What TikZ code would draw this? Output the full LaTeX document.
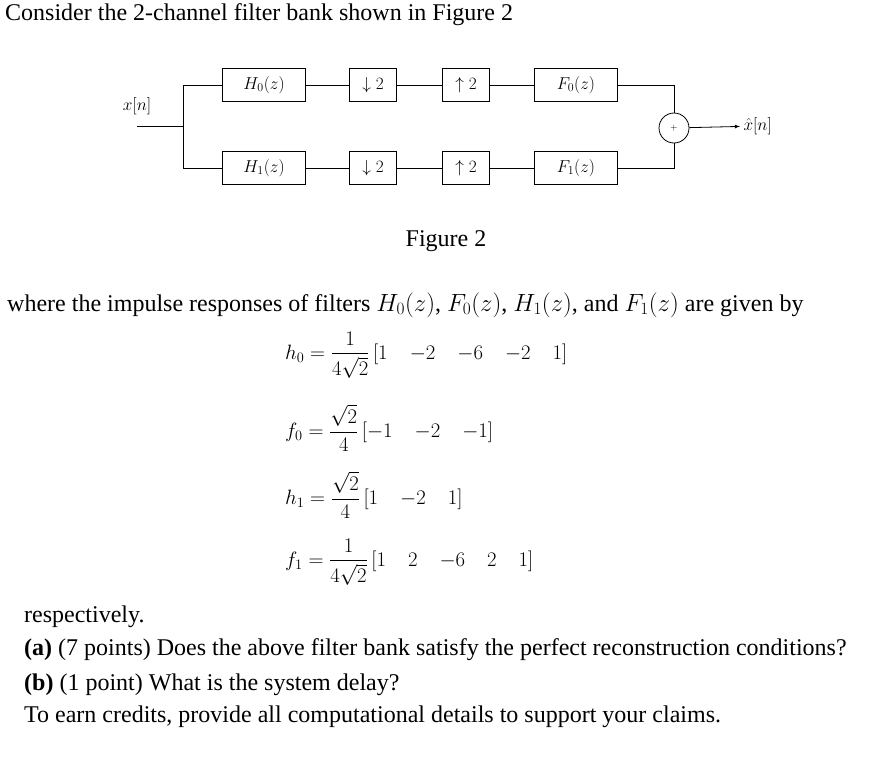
\documentclass[tikz,border=0pt]{standalone}
\usepackage{amsmath}
\usepackage{fontspec}
\setmainfont{Liberation Serif}
\usetikzlibrary{positioning}
\begin{document}
\begin{tikzpicture}[x=1pt,y=-1pt,
  blk/.style={draw,thick,minimum width=83pt,minimum height=33pt,font=\fontsize{17}{19}\selectfont},
  rs/.style={draw,thick,minimum width=47pt,minimum height=33pt,font=\fontsize{17}{19}\selectfont},
  txt/.style={anchor=west,font=\fontsize{24}{28}\selectfont,inner sep=0pt},
  eq/.style={anchor=west,font=\fontsize{22}{26}\selectfont,inner sep=0pt}
]
\useasboundingbox (0,0) rectangle (874,761);
\node[txt] (title) at (5,15) {Consider the 2-channel filter bank shown in Figure 2};
% upper branch
\node[blk] (h0) at (264,85) {$H_0(z)$};
\node[rs] (d0) at (373,85) {$\downarrow 2$};
\node[rs] (u0) at (466,85) {$\uparrow 2$};
\node[blk] (f0) at (576,85) {$F_0(z)$};
% lower branch
\node[blk] (h1) at (264,168) {$H_1(z)$};
\node[rs] (d1) at (373,168) {$\downarrow 2$};
\node[rs] (u1) at (466,168) {$\uparrow 2$};
\node[blk] (f1) at (576,168) {$F_1(z)$};
\node[draw,thick,circle,minimum size=30pt,inner sep=0pt,font=\small] (sum) at (674,128) {$+$};
\coordinate (in) at (137,126);
\coordinate (split) at (183,126);
\node[font=\fontsize{19}{22}\selectfont] (xn) at (137,106) {$x[n]$};
\node[anchor=west,font=\fontsize{19}{22}\selectfont] (xh) at (740,126) {$\hat{x}[n]$};
\draw[thick] (in) -- (split) |- (h0);
\draw[thick] (split) |- (h1);
\draw[thick] (h0) -- (d0) -- (u0) -- (f0);
\draw[thick] (h1) -- (d1) -- (u1) -- (f1);
\draw[thick] (f0) -| (sum);
\draw[thick] (f1) -| (sum);
\draw[thick,-latex] (sum) -- (xh);
\node[font=\fontsize{24}{28}\selectfont] (fig) at (446,241) {Figure 2};
\node[txt] (where) at (7,305) {where the impulse responses of filters $H_0(z)$, $F_0(z)$, $H_1(z)$, and $F_1(z)$ are given by};
\node[eq] (eh0) at (285,355) {$h_0=\dfrac{1}{4\sqrt{2}}\,[1\quad {-2}\quad {-6}\quad {-2}\quad 1]$};
\node[eq] (ef0) at (285,428) {$f_0=\dfrac{\sqrt{2}}{4}\,[{-1}\quad {-2}\quad {-1}]$};
\node[eq] (eh1) at (285,495) {$h_1=\dfrac{\sqrt{2}}{4}\,[1\quad {-2}\quad 1]$};
\node[eq] (ef1) at (285,562) {$f_1=\dfrac{1}{4\sqrt{2}}\,[1\quad 2\quad {-6}\quad 2\quad 1]$};
\node[txt] (resp) at (24,617) {respectively.};
\node[txt] (qa) at (24,650) {\textbf{(a)} (7 points) Does the above filter bank satisfy the perfect reconstruction conditions?};
\node[txt] (qb) at (24,685) {\textbf{(b)} (1 point) What is the system delay?};
\node[txt] (earn) at (24,717) {To earn credits, provide all computational details to support your claims.};
\end{tikzpicture}
\end{document}
